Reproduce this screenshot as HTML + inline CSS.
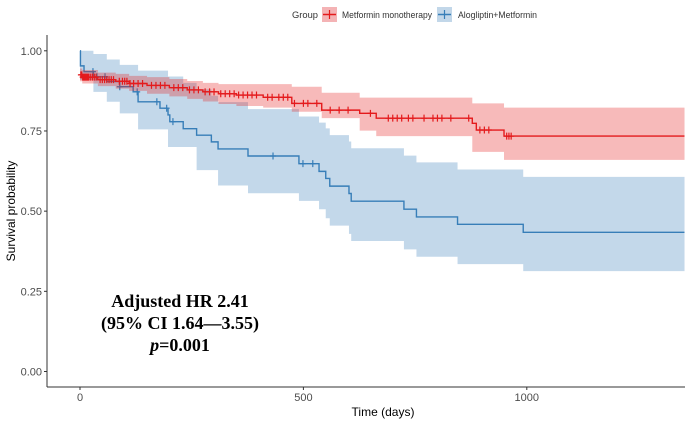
<!DOCTYPE html>
<html><head><meta charset="utf-8"><style>
body{margin:0;background:#fff;}
svg{display:block;font-family:"Liberation Sans",Arial,sans-serif;}
</style></head><body>
<svg id="chart" width="685" height="424" viewBox="0 0 685 424">
<g>
<text x="292" y="18" font-size="9.5" fill="#333" textLength="26" lengthAdjust="spacingAndGlyphs">Group</text>
<g>
<rect x="322" y="7" width="15" height="15" fill="#f4b3b5"/><line x1="323" y1="14.5" x2="336" y2="14.5" stroke="#e41a1c" stroke-width="1.5"/><line x1="329.5" y1="10" x2="329.5" y2="19" stroke="#e41a1c" stroke-width="1.2"/>
<text x="342" y="18" font-size="9.5" fill="#333" textLength="90" lengthAdjust="spacingAndGlyphs">Metformin monotherapy</text></g>
<g>
<rect x="437" y="7" width="15" height="15" fill="#c2d7e9"/><line x1="438" y1="14.5" x2="451" y2="14.5" stroke="#377eb8" stroke-width="1.5"/><line x1="444.5" y1="10" x2="444.5" y2="19" stroke="#377eb8" stroke-width="1.2"/>
<text x="458" y="18" font-size="9.5" fill="#333" textLength="79" lengthAdjust="spacingAndGlyphs">Alogliptin+Metformin</text></g>
</g>
<g id="plot"></g>
<g>
<line x1="47" y1="35" x2="47" y2="387" stroke="#333" stroke-width="1"/>
<line x1="47" y1="387" x2="685" y2="387" stroke="#333" stroke-width="1"/>
<g id="yticks"></g><g id="xticks"></g>
<text x="383" y="416" font-size="12" fill="#000" text-anchor="middle">Time (days)</text>
<text transform="translate(15,211) rotate(-90)" font-size="12" fill="#000" text-anchor="middle">Survival probability</text>
</g>
<g font-family="'Liberation Serif',serif" font-weight="bold" font-size="18" text-anchor="middle" fill="#000">
<text x="180" y="307">Adjusted HR 2.41</text>
<text x="180" y="329">(95% CI 1.64—3.55)</text>
<text x="180" y="351"><tspan font-style="italic">p</tspan>=0.001</text>
</g>
</svg>
<script>
const yTicks=[0,0.25,0.5,0.75,1.0];
const yTickLabels=["0.00","0.25","0.50","0.75","1.00"];
const xTicks=[0,500,1000];
const xTickLabels=["0","500","1000"];
const xMaxDay=1353;
// Blue: Alogliptin+Metformin
const blueTimes=[0,1,9,30,60,89,119,130,179,197,201,231,261,294,309,376,490,535,550,559,602,607,725,753,845,992];
const blueSurv=[1.000,0.953,0.935,0.919,0.904,0.888,0.872,0.841,0.821,0.800,0.779,0.757,0.737,0.716,0.694,0.672,0.648,0.624,0.602,0.578,0.555,0.531,0.506,0.482,0.459,0.434];
const blueLower=[0.909,0.909,0.909,0.872,0.841,0.805,0.805,0.755,0.755,0.700,0.700,0.700,0.628,0.628,0.580,0.556,0.532,0.506,0.478,0.455,0.429,0.407,0.381,0.358,0.335,0.313];
const blueUpper=[1.000,1.000,1.000,0.990,0.973,0.956,0.956,0.938,0.938,0.920,0.920,0.900,0.880,0.860,0.840,0.818,0.795,0.776,0.758,0.737,0.717,0.696,0.673,0.652,0.630,0.607];
const blueCensor=[29,38,56,89,128,172,194,208,432,499,521];
// Red: Metformin monotherapy
const redTimes=[0,5,40,80,110,150,200,240,275,310,350,410,474,541,626,663,878,887,949];
const redSurv=[0.925,0.918,0.910,0.905,0.898,0.892,0.885,0.878,0.872,0.866,0.862,0.855,0.836,0.815,0.805,0.790,0.774,0.753,0.734];
const redLower=[0.905,0.898,0.890,0.882,0.875,0.866,0.858,0.850,0.842,0.834,0.828,0.823,0.810,0.790,0.751,0.734,0.685,0.685,0.660];
const redUpper=[0.945,0.940,0.932,0.928,0.922,0.918,0.912,0.906,0.900,0.896,0.896,0.896,0.888,0.869,0.854,0.854,0.836,0.836,0.823];
const redCensor=[2,4,6,8,10,12,14,16,18,20,24,28,32,36,45,50,55,60,65,70,75,88,95,100,105,112,120,130,140,160,170,180,190,210,220,230,245,255,265,280,290,300,315,325,335,345,355,365,375,385,395,420,430,445,455,465,480,500,510,530,560,580,600,650,690,700,710,720,735,745,770,790,800,810,830,870,895,905,915,955,960,965];

const NS="http://www.w3.org/2000/svg";
const xs=d=>80+d*0.4468;
const ys=v=>371.5-v*320.7;
const plot=document.getElementById('plot');
function mk(tag,attrs,parent){const e=document.createElementNS(NS,tag);for(const k in attrs)e.setAttribute(k,attrs[k]);parent.appendChild(e);return e;}
function stepPath(t,v){let d=`M${xs(t[0])},${ys(v[0])}`;for(let i=1;i<t.length;i++){d+=`H${xs(t[i])}V${ys(v[i])}`;}d+=`H${xs(xMaxDay)}`;return d;}
function bandPath(t,lo,hi){let d=`M${xs(t[0])},${ys(hi[0])}`;for(let i=1;i<t.length;i++){d+=`H${xs(t[i])}V${ys(hi[i])}`;}d+=`H${xs(xMaxDay)}V${ys(lo[lo.length-1])}`;for(let i=t.length-1;i>=1;i--){d+=`H${xs(t[i])}V${ys(lo[i-1])}`;}d+=`H${xs(t[0])}Z`;return d;}
function survAt(t,v,d){let s=v[0];for(let i=0;i<t.length;i++){if(t[i]<=d)s=v[i];}return s;}
function series(name,t,v,lo,hi,cens,col,fill){
  const b=mk('path',{d:bandPath(t,lo,hi),fill:fill,'fill-opacity':'0.3'},plot);
  
  
  const l=mk('path',{d:stepPath(t,v),fill:'none',stroke:col,'stroke-width':'1.4'},plot);
  
  
  cens.forEach(c=>{const x=xs(c),y=ys(survAt(t,v,c));
    const g=mk('path',{d:`M${x-3},${y}H${x+3}M${x},${y-3.5}V${y+3.5}`,stroke:col,'stroke-width':'1.2'},plot);
    
    });
}
series('alogliptin',blueTimes,blueSurv,blueLower,blueUpper,blueCensor,'#377eb8','#377eb8');
series('metformin',redTimes,redSurv,redLower,redUpper,redCensor,'#e41a1c','#e41a1c');
const yt=document.getElementById('yticks');
yTicks.forEach((v,i)=>{const y=ys(v);
  mk('line',{x1:44,y1:y,x2:47,y2:y,stroke:'#333'},yt);
  const t=mk('text',{x:42,y:y+4,'font-size':'11',fill:'#4d4d4d','text-anchor':'end'},yt);t.textContent=yTickLabels[i];
  
  });
const xt=document.getElementById('xticks');
xTicks.forEach((d,i)=>{const x=xs(d);
  mk('line',{x1:x,y1:387,x2:x,y2:390,stroke:'#333'},xt);
  const t=mk('text',{x:x,y:401,'font-size':'11',fill:'#4d4d4d','text-anchor':'middle'},xt);t.textContent=xTickLabels[i];
  
  });
</script>
</body></html>
